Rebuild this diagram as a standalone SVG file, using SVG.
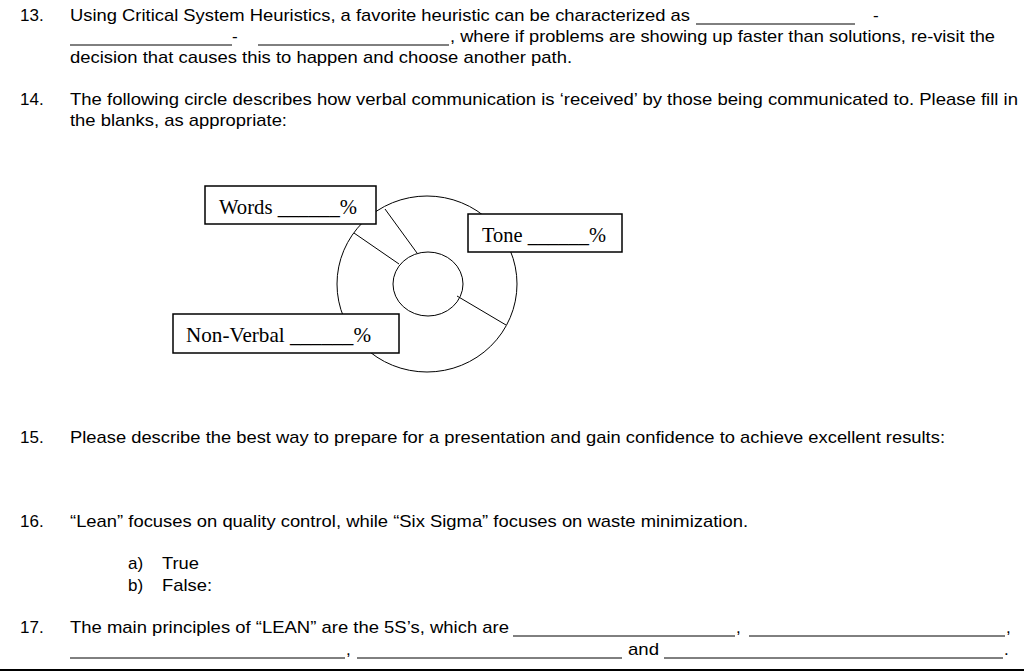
<svg xmlns="http://www.w3.org/2000/svg" width="1024" height="672" viewBox="0 0 1024 672">
<style>
.t{font-family:"Liberation Sans",Arial,sans-serif;font-size:17px;fill:#000}
.s{font-family:"Liberation Serif","Times New Roman",serif;font-size:21px;fill:#000}
.b{stroke:#000;stroke-width:1;fill:none}
.box{stroke:#000;stroke-width:1.5;fill:#fff}
</style>
<rect width="1024" height="672" fill="#fff"/>
<text class="t" x="20" y="21">13.</text>
<text class="t" x="70" y="21" textLength="620" lengthAdjust="spacingAndGlyphs">Using Critical System Heuristics, a favorite heuristic can be characterized as</text>
<line class="b" x1="696" y1="24" x2="855" y2="24"/>
<text class="t" x="873" y="21">-</text>
<line class="b" x1="70" y1="45" x2="232" y2="45"/>
<text class="t" x="232" y="42">-</text>
<line class="b" x1="258" y1="45" x2="449" y2="45"/>
<text class="t" x="450" y="42" textLength="545" lengthAdjust="spacingAndGlyphs">, where if problems are showing up faster than solutions, re-visit the</text>
<text class="t" x="70" y="63" textLength="502" lengthAdjust="spacingAndGlyphs">decision that causes this to happen and choose another path.</text>
<text class="t" x="20" y="105">14.</text>
<text class="t" x="70" y="105" textLength="948" lengthAdjust="spacingAndGlyphs">The following circle describes how verbal communication is ‘received’ by those being communicated to.  Please fill in</text>
<text class="t" x="70" y="126" textLength="217" lengthAdjust="spacingAndGlyphs">the blanks, as appropriate:</text>
<g id="circle">
<ellipse class="b" cx="427" cy="284" rx="90" ry="88"/>
<ellipse class="b" cx="428" cy="284" rx="35" ry="32"/>
</g>
<g id="connectors">
<line class="b" x1="385" y1="209" x2="417" y2="253"/>
<line class="b" x1="354" y1="233" x2="399" y2="264"/>
<line class="b" x1="457" y1="296" x2="506" y2="325"/>
</g>
<g id="words"><rect class="box" x="205" y="186" width="171" height="38"/><text class="s" x="219" y="214" textLength="138" lengthAdjust="spacingAndGlyphs">Words ______%</text></g>
<g id="tone"><rect class="box" x="468" y="214" width="154" height="38"/><text class="s" x="482" y="242" textLength="124" lengthAdjust="spacingAndGlyphs">Tone ______%</text></g>
<g id="nonverbal"><rect class="box" x="173" y="314" width="226" height="39"/><text class="s" x="186" y="342" textLength="185" lengthAdjust="spacingAndGlyphs">Non-Verbal ______%</text></g>
<text class="t" x="20" y="443">15.</text>
<text class="t" x="70" y="443" textLength="875" lengthAdjust="spacingAndGlyphs">Please describe the best way to prepare for a presentation and gain confidence to achieve excellent results:</text>
<text class="t" x="20" y="527">16.</text>
<text class="t" x="70" y="527" textLength="678" lengthAdjust="spacingAndGlyphs">“Lean” focuses on quality control, while “Six Sigma” focuses on waste minimization.</text>
<text class="t" x="128" y="569">a)</text><text class="t" x="162" y="569" textLength="37" lengthAdjust="spacingAndGlyphs">True</text>
<text class="t" x="128" y="591">b)</text><text class="t" x="162" y="591" textLength="50" lengthAdjust="spacingAndGlyphs">False:</text>
<text class="t" x="20" y="633">17.</text>
<text class="t" x="70" y="633" textLength="439" lengthAdjust="spacingAndGlyphs">The main principles of “LEAN” are the 5S’s, which are</text>
<line class="b" x1="513" y1="636" x2="735" y2="636"/>
<text class="t" x="736" y="633">,</text>
<line class="b" x1="749" y1="636" x2="1005" y2="636"/>
<text class="t" x="1006" y="633">,</text>
<line class="b" x1="70" y1="658" x2="345" y2="658"/>
<text class="t" x="346" y="655">,</text>
<line class="b" x1="357" y1="658" x2="622" y2="658"/>
<text class="t" x="628" y="655" textLength="31" lengthAdjust="spacingAndGlyphs">and</text>
<line class="b" x1="664" y1="658" x2="1003" y2="658"/>
<text class="t" x="1004" y="655">.</text>
<line x1="0" y1="670" x2="1024" y2="670" stroke="#000" stroke-width="2"/>
</svg>
